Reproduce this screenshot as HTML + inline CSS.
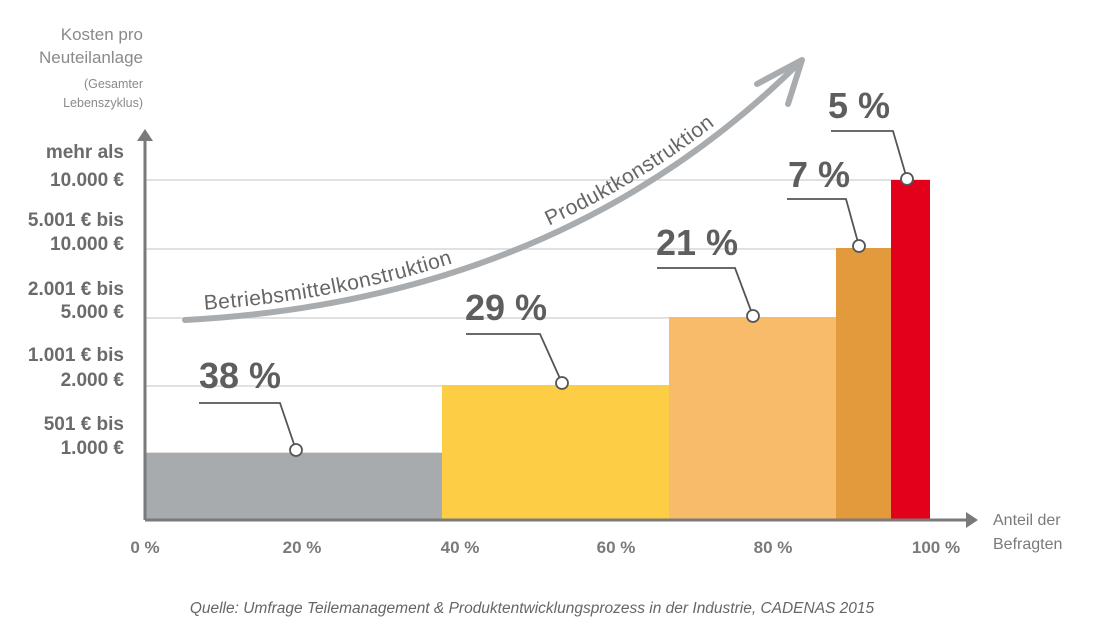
<!DOCTYPE html>
<html><head><meta charset="utf-8"><style>body{margin:0;background:#fff}svg{display:block}text{font-family:"Liberation Sans",sans-serif}</style></head><body>
<svg width="1096" height="633" viewBox="0 0 1096 633" xmlns="http://www.w3.org/2000/svg">
<g stroke="#cfcfcf" stroke-width="1.2">
<line x1="145" y1="180" x2="930" y2="180"/><line x1="145" y1="249" x2="930" y2="249"/><line x1="145" y1="318" x2="930" y2="318"/><line x1="145" y1="386" x2="930" y2="386"/><line x1="145" y1="453" x2="930" y2="453"/>
</g>
<rect x="145" y="453" width="297" height="67" fill="#a7abae"/>
<rect x="442" y="385" width="227" height="135" fill="#fccd45"/>
<rect x="669" y="317" width="167" height="203" fill="#f8bb6a"/>
<rect x="836" y="248" width="55" height="272" fill="#e29a3c"/>
<rect x="891" y="180" width="39" height="340" fill="#e2001a"/>
<g stroke="#7a7a7a" stroke-width="3"><line x1="145" y1="140" x2="145" y2="520"/><line x1="145" y1="520" x2="968" y2="520"/></g>
<polygon points="137,141 145,129 153,141" fill="#7a7a7a"/>
<polygon points="966,512 978,520 966,528" fill="#7a7a7a"/>
<g fill="#8a8a8a" font-size="17" text-anchor="end">
<text x="143" y="40">Kosten pro</text><text x="143" y="63">Neuteilanlage</text>
<text x="143" y="88" font-size="12.5">(Gesamter</text><text x="143" y="107" font-size="12.5">Lebenszyklus)</text></g>
<g fill="#6b6b6b" font-size="19" font-weight="bold" text-anchor="end">
<text x="124" y="158">mehr als</text><text x="124" y="186">10.000 €</text>
<text x="124" y="226">5.001 € bis</text><text x="124" y="250">10.000 €</text>
<text x="124" y="295">2.001 € bis</text><text x="124" y="318">5.000 €</text>
<text x="124" y="361">1.001 € bis</text><text x="124" y="386">2.000 €</text>
<text x="124" y="430">501 € bis</text><text x="124" y="454">1.000 €</text></g>
<g fill="#7a7a7a" font-size="17" font-weight="bold" text-anchor="middle">
<text x="145" y="553">0 %</text><text x="302" y="553">20 %</text><text x="460" y="553">40 %</text><text x="616" y="553">60 %</text><text x="773" y="553">80 %</text><text x="936" y="553">100 %</text></g>
<g fill="#7a7a7a" font-size="16"><text x="993" y="525">Anteil der</text><text x="993" y="549">Befragten</text></g>
<path id="arc" d="M185,320 Q560,300 800,62" fill="none" stroke="#a8acaf" stroke-width="6" stroke-linecap="round"/>
<polyline points="757,84 802,60 788,104" fill="none" stroke="#a8acaf" stroke-width="6" stroke-linecap="round" stroke-linejoin="round"/>
<text fill="#666" font-size="21" letter-spacing="0.6"><textPath href="#arc" startOffset="20"><tspan dy="-9">Betriebsmittelkonstruktion</tspan></textPath></text>
<text fill="#666" font-size="21" letter-spacing="0.6"><textPath href="#arc" startOffset="380"><tspan dy="-9">Produktkonstruktion</tspan></textPath></text>
<g fill="none" stroke="#555" stroke-width="1.8">
<polyline points="199,403 280,403 296,450"/><polyline points="466,334 540,334 562,383"/><polyline points="657,268 735,268 753,316"/><polyline points="787,199 846,199 859,246"/><polyline points="831,131 893,131 907,179"/></g>
<g fill="#fff" stroke="#555" stroke-width="1.8">
<circle cx="296" cy="450" r="6"/><circle cx="562" cy="383" r="6"/><circle cx="753" cy="316" r="6"/><circle cx="859" cy="246" r="6"/><circle cx="907" cy="179" r="6"/></g>
<g fill="#5e5e5e" font-size="36" font-weight="bold">
<text x="199" y="388">38 %</text><text x="465" y="320">29 %</text><text x="656" y="255">21 %</text><text x="788" y="187">7 %</text><text x="828" y="118">5 %</text></g>
<text x="532" y="613" fill="#666" font-size="15.5" font-style="italic" text-anchor="middle">Quelle: Umfrage Teilemanagement &amp; Produktentwicklungsprozess in der Industrie, CADENAS 2015</text>
</svg>
</body></html>
